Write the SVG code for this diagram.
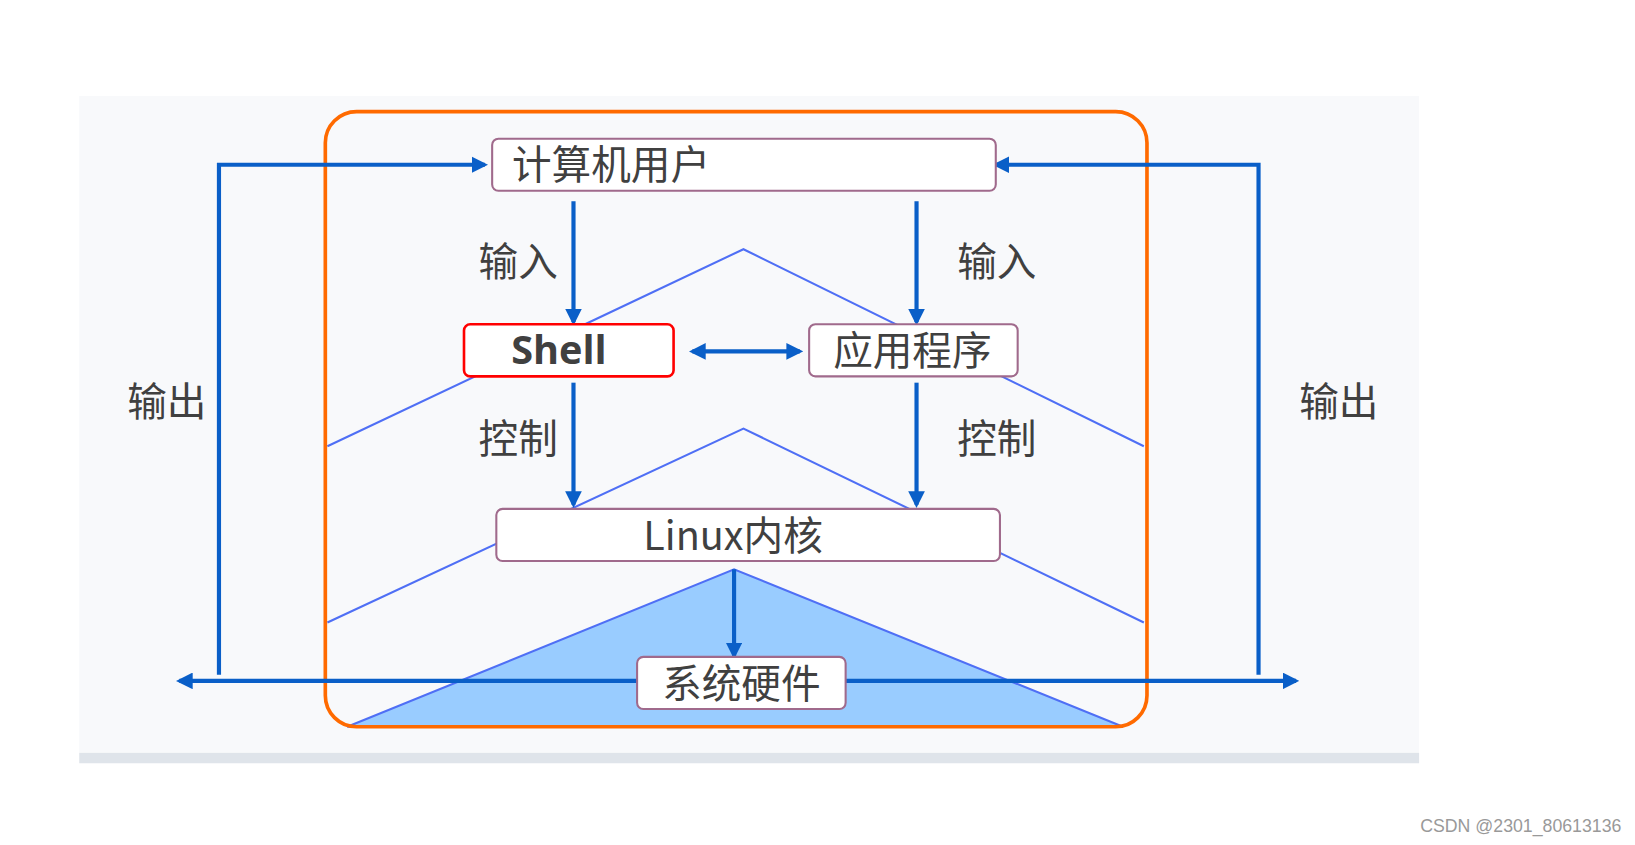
<svg xmlns="http://www.w3.org/2000/svg" width="1635" height="845" viewBox="0 0 1635 845">
<defs>
<marker id="ah" viewBox="0 0 10 10" refX="8" refY="5" markerWidth="4" markerHeight="4" orient="auto-start-reverse"><path d="M0,0L10,5L0,10z" fill="#0a5fc8"/></marker>
<style>
.box{fill:#fff;stroke:#a06a8c;stroke-width:2}
.t{font-family:"Noto Sans CJK SC","Liberation Sans",sans-serif;font-size:38px;fill:#404040}
.chev{fill:none;stroke:#4f6ff5;stroke-width:2}
.ar{stroke:#0a5fc8;stroke-width:4;fill:none}
</style>
</defs>
<rect width="1635" height="845" fill="#fff"/>
<g transform="scale(1.0427)">
<rect x="76" y="92" width="1285" height="630" fill="#f8f9fb"/>
<rect x="76" y="722" width="1285" height="10" fill="#dfe4ea"/>
<polyline class="chev" points="314,428 713,239 1097,428"/>
<polyline class="chev" points="314,597 713,411 1097,597"/>
<polygon points="333,697 704,546 1077,697" fill="#99ccff" stroke="#4f6ff5" stroke-width="2"/>
<rect x="312" y="107" width="788" height="590" rx="30" fill="none" stroke="#ff6a00" stroke-width="3.5"/>
<g id="connectors">
<polyline class="ar" points="210,647 210,158 465,158" marker-end="url(#ah)"/>
<polyline class="ar" points="1207,647 1207,158 955,158" marker-end="url(#ah)"/>
<line class="ar" x1="172" y1="653" x2="1243" y2="653" marker-start="url(#ah)" marker-end="url(#ah)"/>
<line class="ar" x1="550" y1="193" x2="550" y2="309" marker-end="url(#ah)"/>
<line class="ar" x1="879" y1="193" x2="879" y2="309" marker-end="url(#ah)"/>
<line class="ar" x1="550" y1="367" x2="550" y2="484" marker-end="url(#ah)"/>
<line class="ar" x1="879" y1="367" x2="879" y2="484" marker-end="url(#ah)"/>
<line class="ar" x1="704" y1="546" x2="704" y2="629" marker-end="url(#ah)"/>
<line class="ar" x1="664" y1="337" x2="767" y2="337" marker-start="url(#ah)" marker-end="url(#ah)"/>
</g>
<g id="user"><rect class="box" x="472" y="133" width="483" height="50" rx="6"/><text class="t" x="491" y="172">计算机用户</text></g>
<g id="shell"><rect x="445" y="311" width="201" height="50" rx="6" fill="#fff" stroke="#ff0000" stroke-width="2.5"/><text class="t" x="536" y="349" text-anchor="middle" font-weight="bold" style="font-family:'Open Sans','Liberation Sans',sans-serif">Shell</text></g>
<g id="app"><rect class="box" x="776" y="311" width="200" height="50" rx="6"/><text class="t" x="875" y="350" text-anchor="middle">应用程序</text></g>
<g id="kernel"><rect class="box" x="476" y="488" width="483" height="50" rx="6"/><text class="t" x="703" y="527" text-anchor="middle">Linux内核</text></g>
<g id="hw"><rect class="box" x="611" y="630" width="200" height="50" rx="6"/><text class="t" x="711" y="669" text-anchor="middle">系统硬件</text></g>
<text class="t" x="497" y="265" text-anchor="middle">输入</text>
<text class="t" x="956" y="265" text-anchor="middle">输入</text>
<text class="t" x="497" y="434" text-anchor="middle">控制</text>
<text class="t" x="956" y="434" text-anchor="middle">控制</text>
<text class="t" x="160" y="399" text-anchor="middle">输出</text>
<text class="t" x="1284" y="399" text-anchor="middle">输出</text>
<text x="1555" y="798" text-anchor="end" font-family="Liberation Sans,sans-serif" font-size="17" fill="#999">CSDN @2301_80613136</text>
</g>
</svg>
